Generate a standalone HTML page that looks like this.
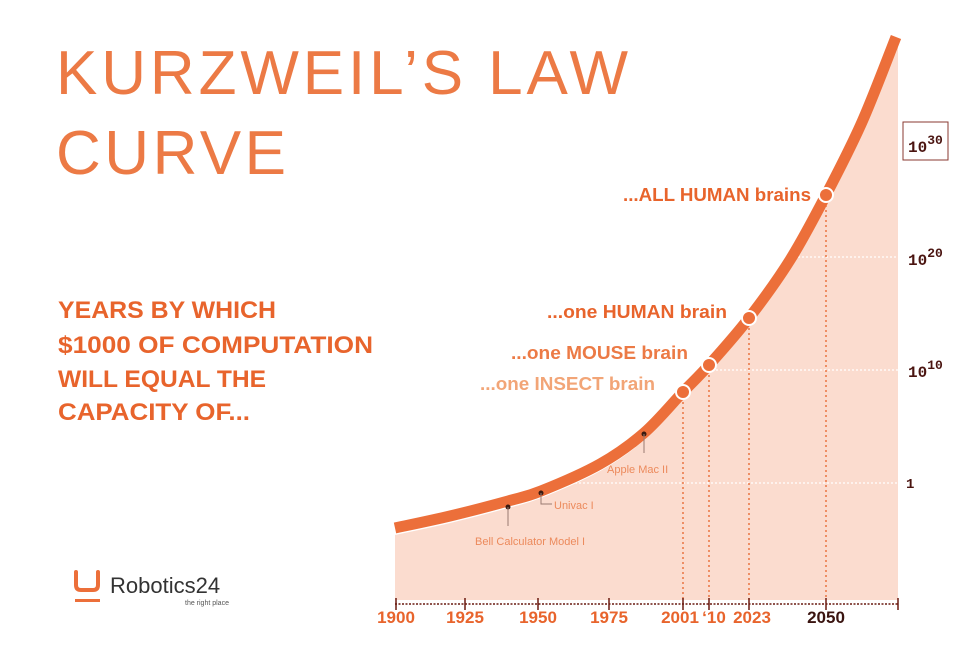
<!DOCTYPE html>
<html><head><meta charset="utf-8"><style>
body{margin:0;background:#fff;}
svg{display:block;font-family:"Liberation Sans",sans-serif;}
</style></head><body>
<svg id="s" width="980" height="653" viewBox="0 0 980 653">
<rect width="980" height="653" fill="#fff"/>
<path id="fill" d="" fill="#fbdccf"/>
<g stroke="#fff" stroke-width="1.2" stroke-dasharray="2,2">
<line x1="395" y1="483" x2="898" y2="483"/>
<line x1="660" y1="370" x2="898" y2="370"/>
<line x1="790" y1="257" x2="898" y2="257"/>
</g>
<g stroke="#e8642c" stroke-width="1.3" stroke-dasharray="2,3">
<line x1="683" y1="392" x2="683" y2="600"/>
<line x1="709" y1="365" x2="709" y2="600"/>
<line x1="749" y1="318" x2="749" y2="600"/>
<line x1="826" y1="195" x2="826" y2="600"/>
</g>
<path id="edge" d="" fill="none" stroke="#fff" stroke-width="2"/>
<path id="curve" d="" fill="none" stroke="#ec6f3a" stroke-width="11"/>
<g fill="#ec6f3a" stroke="#fff" stroke-width="2">
<circle cx="683" cy="392" r="7"/><circle cx="709" cy="365" r="7"/><circle cx="749" cy="318" r="7"/><circle cx="826" cy="195" r="7"/>
</g>
<g fill="#3a1a10"><circle cx="508" cy="507" r="2.5"/><circle cx="541" cy="493" r="2.5"/><circle cx="644" cy="434" r="2.5"/></g>
<g stroke="#9a7a70" stroke-width="1" fill="none">
<line x1="508" y1="507" x2="508" y2="526"/>
<polyline points="541,493 541,504 552,504"/>
<line x1="644" y1="434" x2="644" y2="453"/>
</g>
<g fill="#ec8a5c" font-size="11">
<text x="475" y="545">Bell Calculator Model I</text>
<text x="554" y="509">Univac I</text>
<text x="607" y="473">Apple Mac II</text>
</g>
<g font-weight="bold" font-size="18" text-anchor="end">
<text x="811" y="201" fill="#e8642c" textLength="188" lengthAdjust="spacingAndGlyphs">...ALL HUMAN brains</text>
<text x="727" y="318" fill="#e8642c" textLength="180" lengthAdjust="spacingAndGlyphs">...one HUMAN brain</text>
<text x="688" y="359" fill="#ec7a45" textLength="177" lengthAdjust="spacingAndGlyphs">...one MOUSE brain</text>
<text x="655" y="390" fill="#f2a577" textLength="175" lengthAdjust="spacingAndGlyphs">...one INSECT brain</text>
</g>
<line x1="395" y1="604" x2="898" y2="604" stroke="#6a1a10" stroke-width="1.5" stroke-dasharray="2,1.5"/>
<g stroke="#6a1a10" stroke-width="1.5">
<line x1="396" y1="598" x2="396" y2="610"/><line x1="465" y1="598" x2="465" y2="610"/><line x1="538" y1="598" x2="538" y2="610"/><line x1="609" y1="598" x2="609" y2="610"/><line x1="683" y1="598" x2="683" y2="610"/><line x1="709" y1="598" x2="709" y2="610"/><line x1="749" y1="598" x2="749" y2="610"/><line x1="826" y1="598" x2="826" y2="610"/><line x1="898" y1="598" x2="898" y2="610"/>
</g>
<g font-weight="bold" font-size="17" fill="#e8642c" text-anchor="middle">
<text x="396" y="623">1900</text><text x="465" y="623">1925</text><text x="538" y="623">1950</text><text x="609" y="623">1975</text><text x="680" y="623">2001</text><text x="714" y="623">‘10</text><text x="752" y="623">2023</text><text x="826" y="623" fill="#3a1410">2050</text>
</g>
<rect x="903" y="122" width="45" height="38" fill="none" stroke="#8a3a30" stroke-width="1"/>
<g font-family="Liberation Mono,monospace" font-weight="bold" fill="#4a1410">
<text x="908" y="152" font-size="16">10<tspan dy="-8" font-size="13">30</tspan></text>
<text x="908" y="265" font-size="16">10<tspan dy="-8" font-size="13">20</tspan></text>
<text x="908" y="377" font-size="16">10<tspan dy="-8" font-size="13">10</tspan></text>
<text x="906" y="488" font-size="14">1</text>
</g>
<g fill="#ec7a45" font-size="62">
<text x="56" y="94" textLength="572" lengthAdjust="spacing">KURZWEIL’S LAW</text>
<text x="56" y="174" textLength="230" lengthAdjust="spacing">CURVE</text>
</g>
<g fill="#e8642c" font-weight="bold" font-size="24">
<text x="58" y="318" textLength="218" lengthAdjust="spacingAndGlyphs">YEARS BY WHICH</text>
<text x="58" y="353" textLength="315" lengthAdjust="spacingAndGlyphs">$1000 OF COMPUTATION</text>
<text x="58" y="387" textLength="208" lengthAdjust="spacingAndGlyphs">WILL EQUAL THE</text>
<text x="58" y="420" textLength="192" lengthAdjust="spacingAndGlyphs">CAPACITY OF...</text>
</g>
<g stroke="#ec6f3a" stroke-width="4" fill="none" stroke-linecap="round">
<path d="M76,572 L76,585 Q76,590 81,590 L93,590 Q98,590 98,585 L98,572"/>
</g>
<rect x="75" y="599" width="25" height="3" fill="#ec6f3a"/>
<text x="110" y="593" font-size="22" fill="#333">Robotics24</text>
<text x="185" y="605" font-size="7" fill="#555">the right place</text>
</svg>
<script>
var P=[[395,528],[450,516],[508,501],[541,491],[600,464],[644,433],[683,392],[709,365],[749,318],[790,260],[826,195],[862,122],[896,37]];
function cr(pts,dy){var d="M"+pts[0][0]+","+(pts[0][1]+dy);
for(var i=0;i<pts.length-1;i++){var p0=pts[Math.max(0,i-1)],p1=pts[i],p2=pts[i+1],p3=pts[Math.min(pts.length-1,i+2)];
d+=" C"+(p1[0]+(p2[0]-p0[0])/6)+","+(p1[1]+dy+(p2[1]-p0[1])/6)+" "+(p2[0]-(p3[0]-p1[0])/6)+","+(p2[1]+dy-(p3[1]-p1[1])/6)+" "+p2[0]+","+(p2[1]+dy);}
return d;}
document.getElementById("curve").setAttribute("d",cr(P,0));
document.getElementById("edge").setAttribute("d",cr(P,6));
document.getElementById("fill").setAttribute("d",cr(P,5)+" L898,42 L898,600 L395,600 Z");
</script>
</body></html>
